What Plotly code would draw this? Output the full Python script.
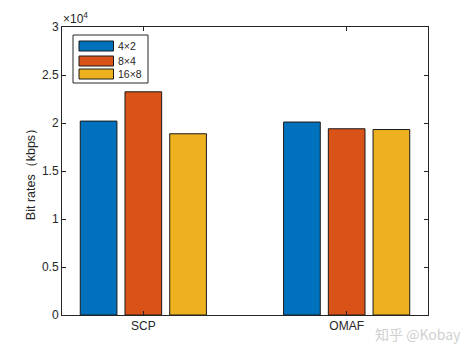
import plotly.graph_objects as go

categories = ["SCP", "OMAF"]
series_names = ["4×2", "8×4", "16×8"]
values_4x2 = [20200, 20100]
values_8x4 = [23250, 19400]
values_16x8 = [18880, 19320]
colors = ["#0072BD", "#D95319", "#EDB120"]
ytick_vals = [0, 5000, 10000, 15000, 20000, 25000, 30000]
ytick_text = ["0", "0.5", "1", "1.5", "2", "2.5", "3"]

series = [values_4x2, values_8x4, values_16x8]

fig = go.Figure()
for name, vals, col in zip(series_names, series, colors):
    fig.add_trace(go.Bar(
        x=categories, y=vals, name=name, marker_color=col,
        marker_line=dict(color="#1a1a1a", width=1), showlegend=False))

W, H = 474, 355
OFF = 8  # page body margin
# plot area in screen pixels: 62..428 x 27..315
sl, sr, st, sb = 62, 428, 27, 315
ml, mt = sl - OFF, st - OFF
mr = W - (sr - OFF)
mb = H - (sb - OFF)
pw, ph = sr - sl, sb - st

def px(x):
    return (x - sl) / pw

def py(y):
    return 1 - (y - st) / ph

FONT = "Liberation Sans, Arial"
shapes = []
annotations = []
shapes.append(dict(type="rect", xref="paper", yref="paper",
                   x0=px(73), x1=px(148), y0=py(83), y1=py(35),
                   line=dict(color="#262626", width=1), fillcolor="white"))
row_tops = [41, 56, 69]
for i, (name, col) in enumerate(zip(series_names, colors)):
    t = row_tops[i]
    shapes.append(dict(type="rect", xref="paper", yref="paper",
                       x0=px(79), x1=px(113.5), y0=py(t + 10), y1=py(t),
                       line=dict(color="#1a1a1a", width=1), fillcolor=col))
    annotations.append(dict(xref="paper", yref="paper", x=px(116), y=py(t + 5),
                            text=name, showarrow=False, xanchor="left", yanchor="middle",
                            font=dict(size=10.5, color="#262626", family=FONT)))

annotations.append(dict(xref="paper", yref="paper", x=px(61), y=py(18),
                        text="×10<sup>4</sup>", showarrow=False, xanchor="left", yanchor="middle",
                        font=dict(size=12, color="#262626", family=FONT)))
annotations.append(dict(xref="paper", yref="paper", x=px(373), y=py(334),
                        text="知乎 @Kobay", showarrow=False, xanchor="left", yanchor="middle",
                        font=dict(size=14, color="#d0d0d0", family="Noto Sans CJK SC")))

fig.update_layout(
    width=W, height=H,
    margin=dict(l=ml, r=mr, t=mt, b=mb, pad=0),
    paper_bgcolor="white", plot_bgcolor="white",
    barmode="group", bargap=0.34, bargroupgap=0.18,
    shapes=shapes, annotations=annotations,
    font=dict(family=FONT, size=12, color="#262626"),
    xaxis=dict(range=[-0.4, 1.4], showline=True, linecolor="#262626", linewidth=1,
               mirror="ticks", ticks="inside", ticklen=4, tickcolor="#262626",
               showgrid=False, zeroline=False, tickfont=dict(size=12)),
    yaxis=dict(range=[0, 30000], tickvals=ytick_vals, ticktext=ytick_text,
               showline=True, linecolor="#262626", linewidth=1, mirror="ticks",
               ticks="inside", ticklen=4, tickcolor="#262626", showgrid=False,
               zeroline=False, tickfont=dict(size=12),
               title=dict(text="Bit rates（kbps）", font=dict(size=12.5), standoff=3)),
)

fig.write_html("out.html")
